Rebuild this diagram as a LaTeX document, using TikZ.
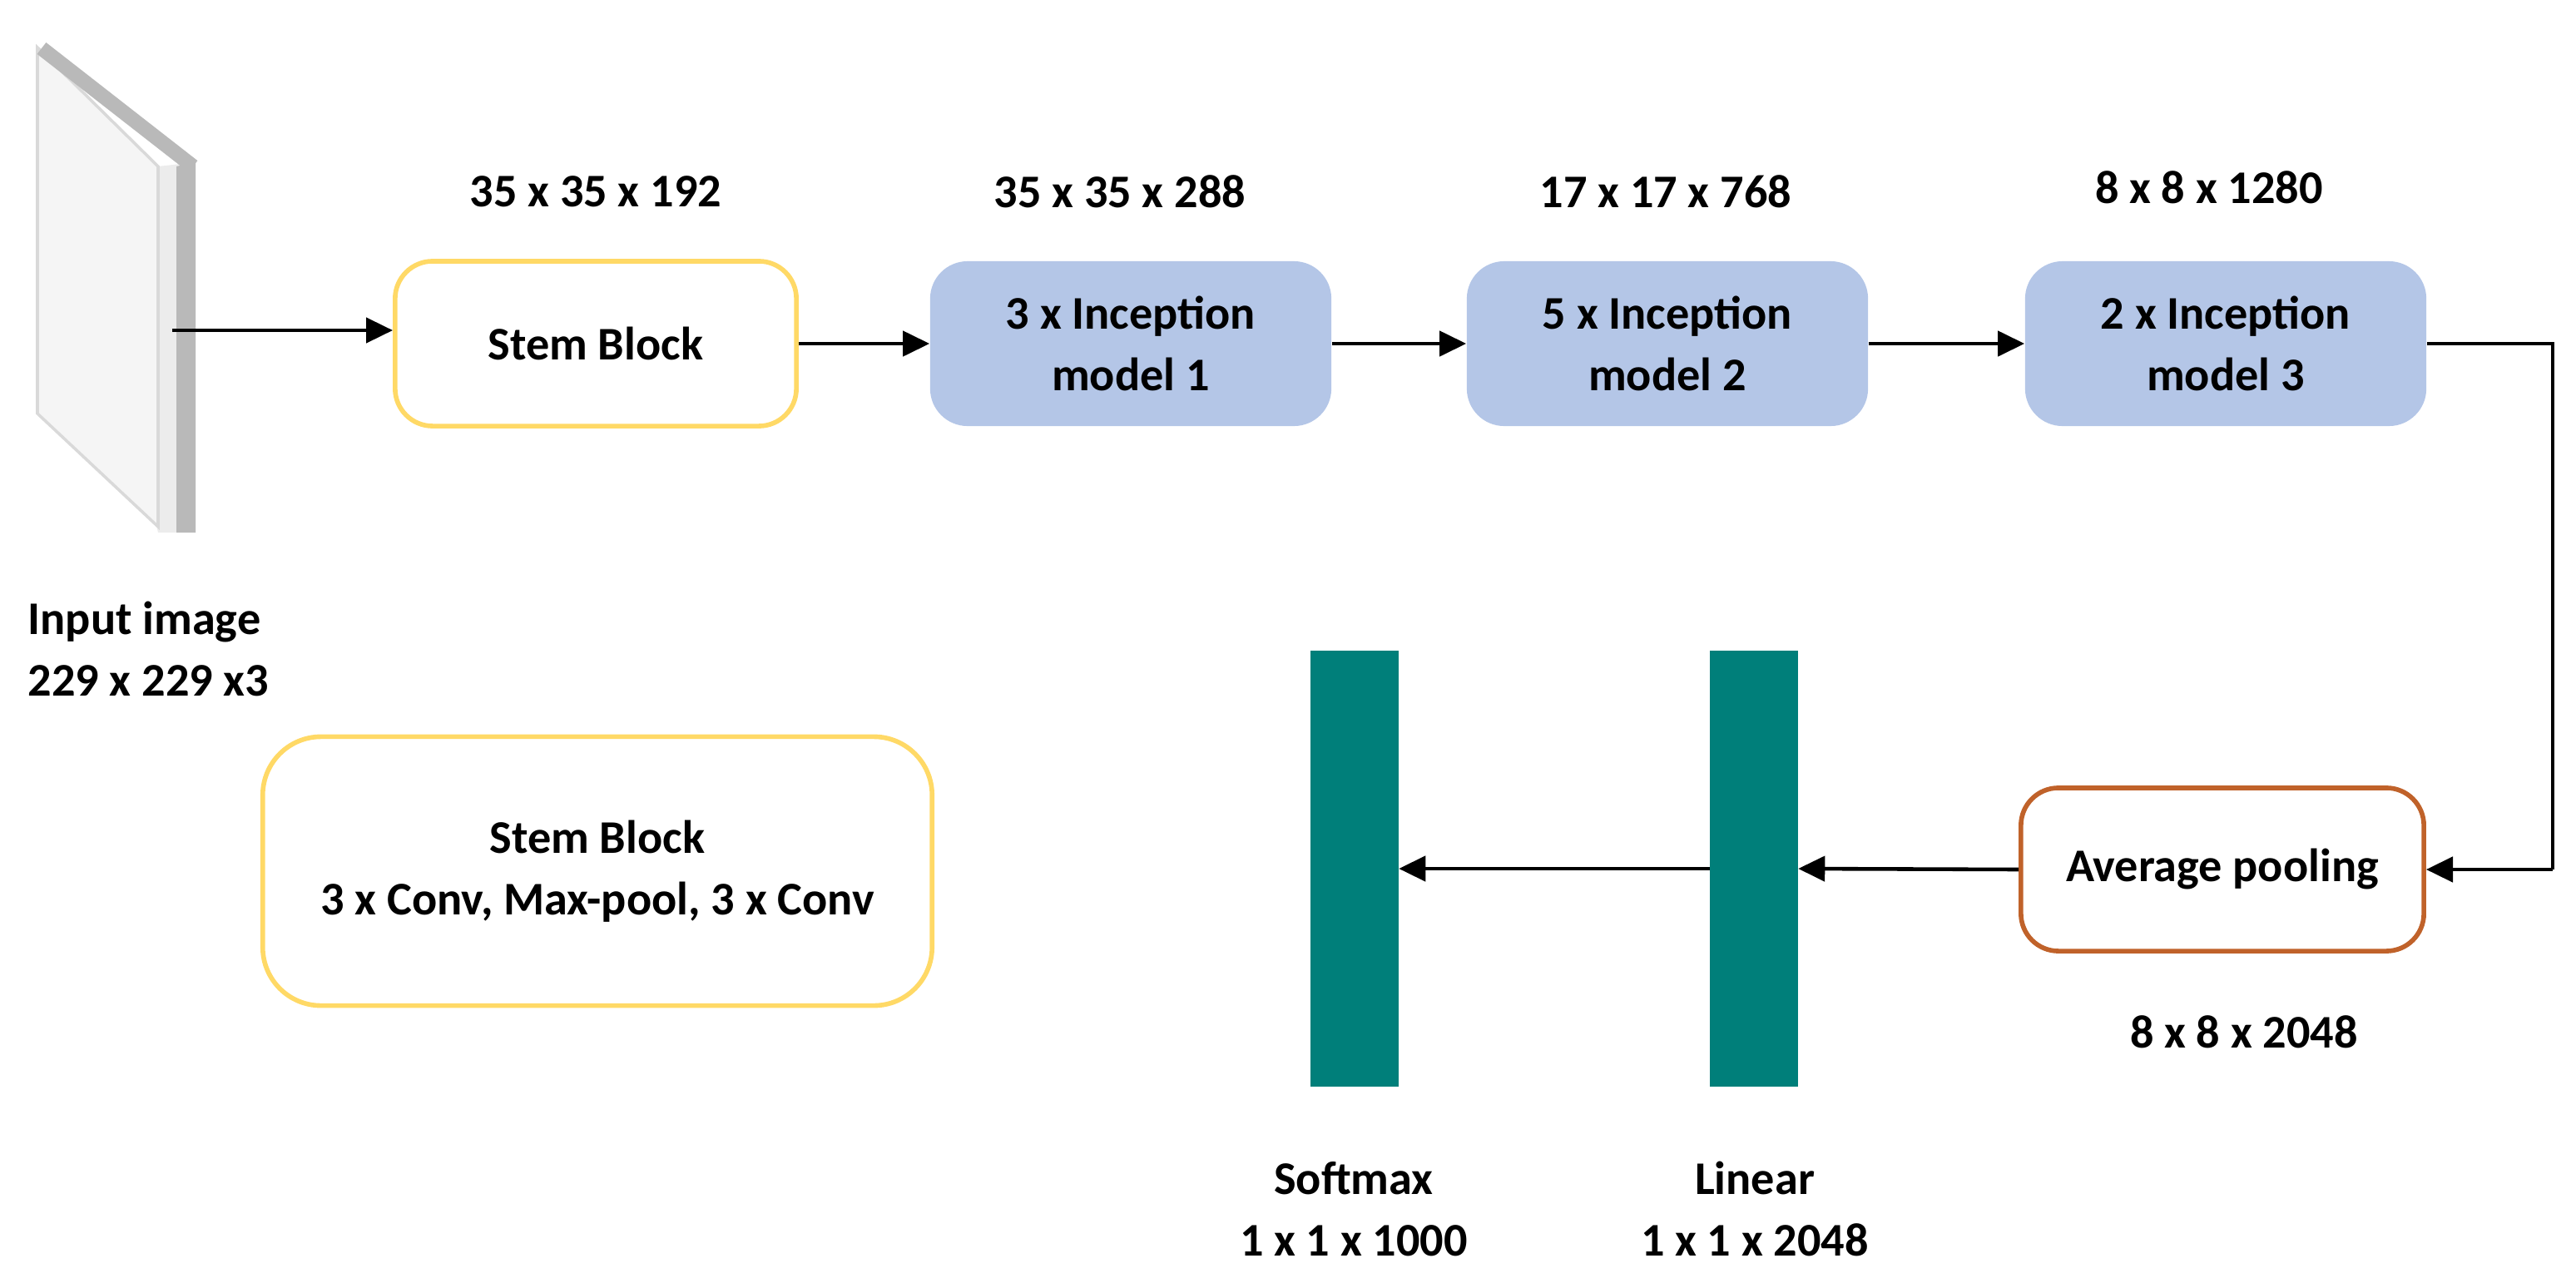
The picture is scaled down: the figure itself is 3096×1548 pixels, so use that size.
\documentclass[tikz,border=0pt]{standalone}
\usepackage{fontspec}
\setmainfont{Carlito}
\usetikzlibrary{arrows.meta}
\definecolor{stemyel}{HTML}{FFD966}
\definecolor{incblue}{HTML}{B4C6E7}
\definecolor{avgor}{HTML}{C0622A}
\definecolor{teal2}{HTML}{007F7A}
\begin{document}
\begin{tikzpicture}[x=0.01cm,y=-0.01cm,
  font=\fontsize{16}{21}\selectfont\bfseries,
  box/.style={rounded corners=0.45cm,minimum width=4.82cm,minimum height=1.98cm,align=center,inner sep=0pt},
  stem/.style={box,draw=stemyel,line width=1.6pt,fill=white},
  inc/.style={box,fill=incblue},
  avg/.style={box,draw=avgor,line width=1.6pt,fill=white,minimum height=1.96cm,minimum width=4.84cm},
  bar/.style={fill=teal2,minimum width=1.05cm,minimum height=5.24cm,inner sep=0pt},
  lab/.style={align=center,inner sep=0pt},
  arr/.style={line width=1.3pt,-{Triangle[length=0.32cm,width=0.3cm]}},
  ln/.style={line width=1.3pt}]
\useasboundingbox (0,0) rectangle (3096,1548);
% input image plate
\fill[gray!15] (45,57) -- (190,200) -- (235,195) -- (235,640) -- (190,640) -- cycle;
\fill[gray!55] (212,200) -- (235,195) -- (235,640) -- (212,640) -- cycle;
\fill[gray!8,draw=gray!30,line width=1pt] (45,57) -- (190,200) -- (190,633) -- (45,497) -- cycle;
\draw[gray!55,line width=5pt] (50,58) -- (232,200);
\coordinate (pin) at (207,397);
\node[lab,align=left,anchor=north west] (inlab) at (33,722) {Input image\\229 x 229 x3};
% top row
\node[stem] (s1) at (716,413) {Stem Block};
\node[inc] (i1) at (1359,413) {3 x Inception\\model 1};
\node[inc] (i2) at (2004,413) {5 x Inception\\model 2};
\node[inc] (i3) at (2675,413) {2 x Inception\\model 3};
\node[lab] (l1) at (716,230) {35 x 35 x 192};
\node[lab] (l2) at (1346,230) {35 x 35 x 288};
\node[lab] (l3) at (2002,230) {17 x 17 x 768};
\node[lab] (l4) at (2655,225) {8 x 8 x 1280};
% bottom row
\node[avg] (ap) at (2671,1045) {Average pooling};
\node[lab] (l5) at (2697,1240) {8 x 8 x 2048};
\node[bar] (lin) at (2108,1044) {};
\node[bar] (sm) at (1628,1044) {};
\node[lab] (l6) at (2109,1453) {Linear\\1 x 1 x 2048};
\node[lab] (l7) at (1627,1453) {Softmax\\1 x 1 x 1000};
% legend
\node[stem,minimum width=8.04cm,minimum height=3.23cm,rounded corners=0.7cm] (legend) at (718,1047) {Stem Block\\3 x Conv, Max-pool, 3 x Conv};
% connectors
\draw[arr] (pin) -- (pin -| s1.west);
\draw[arr] (s1) -- (i1);
\draw[arr] (i1) -- (i2);
\draw[arr] (i2) -- (i3);
\coordinate (rt) at (3068,413);
\draw[ln] (i3.east) -- (rt) -- (rt |- ap.east);
\draw[arr] (rt |- ap.east) -- (ap.east);
\draw[arr] (ap.west) -- (lin.east);
\draw[arr] (lin.west) -- (sm.east);
\end{tikzpicture}
\end{document}
